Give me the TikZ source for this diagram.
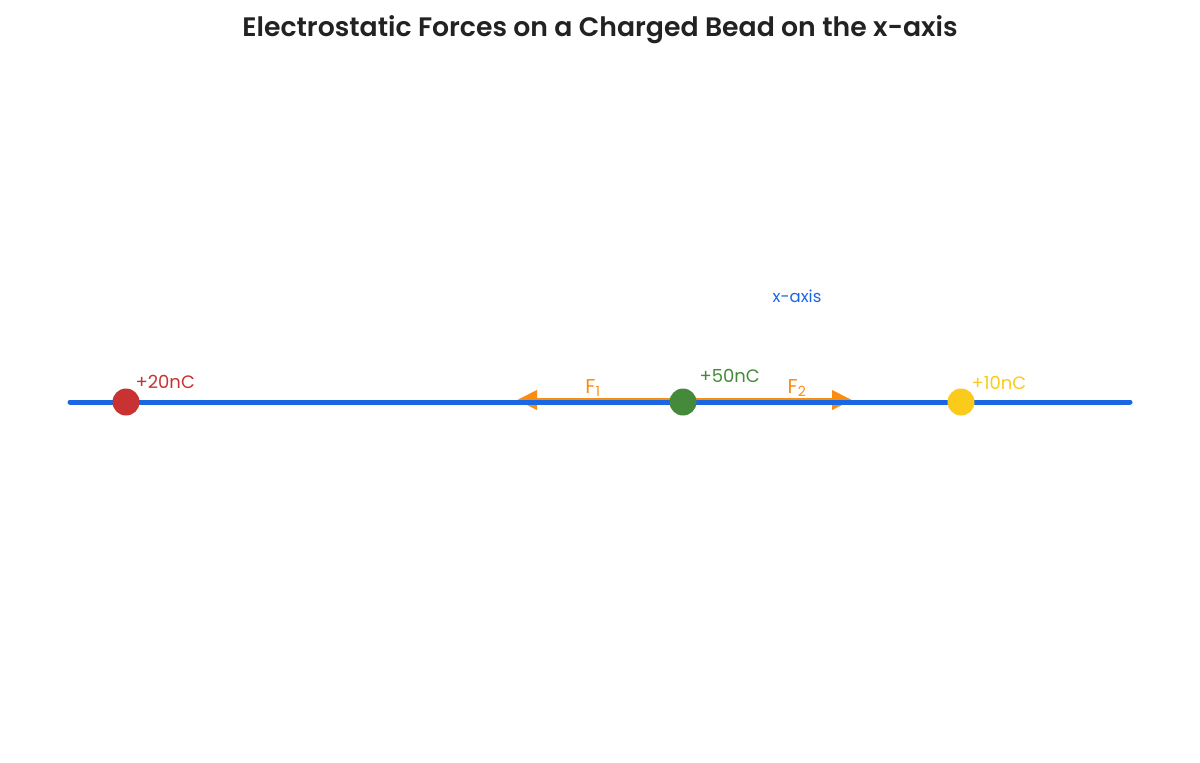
\documentclass[tikz,border=0pt]{standalone}
\usepackage{fontspec}
\setmainfont{Poppins}[BoldFont={Poppins SemiBold}]
\usetikzlibrary{arrows.meta}
\definecolor{axisblue}{HTML}{1A66E3}
\definecolor{beadred}{HTML}{C83232}
\definecolor{beadgreen}{HTML}{448A3A}
\definecolor{beadyellow}{HTML}{FACB1A}
\definecolor{forceorange}{HTML}{FA8C0F}
\definecolor{titlegray}{HTML}{222222}
\tikzset{
  bead/.style={circle,inner sep=0pt,minimum size=27pt},
  charge/.style={anchor=west,font=\fontsize{18}{20}\selectfont},
  force/.style={forceorange,line width=4pt,-{Triangle[length=20pt 0 0,width=19pt 0 0]}},
}

\begin{document}
\begin{tikzpicture}[x=1pt,y=-1pt]
\useasboundingbox (0,0) rectangle (1200,763);

\node[font=\bfseries\fontsize{26.7}{30}\selectfont,text=titlegray] (title) at (600,30) {Electrostatic Forces on a Charged Bead on the x-axis};

\coordinate (a0) at (70,402);
\coordinate (a1) at (1130,402);
\coordinate (t1) at (517,400);
\coordinate (t2) at (852,400);
\coordinate (c0) at (683,400);

% forces on the middle bead
\draw[force] (c0)--(t1);
\draw[force] (c0)--(t2);
\node[forceorange,font=\fontsize{20}{22}\selectfont] (f1) at (593,388) {F\textsubscript{1}};
\node[forceorange,font=\fontsize{20}{22}\selectfont] (f2) at (797,388) {F\textsubscript{2}};

\draw[axisblue,line width=5pt,line cap=round] (a0)--(a1);
\node[axisblue,font=\fontsize{16.5}{18}\selectfont] (axis) at (797,296) {x-axis};

\node[bead,fill=beadred] (q1) at (126,402) {};
\node[bead,fill=beadgreen] (q0) at (683,402) {};
\node[bead,fill=beadyellow] (q2) at (961,402) {};

\node[charge,text=beadred] (l1) at (132,382) {+20nC};
\node[charge,text=beadgreen] (l0) at (696,376) {+50nC};
\node[charge,text=beadyellow] (l2) at (968,383) {+10nC};
\end{tikzpicture}
\end{document}
